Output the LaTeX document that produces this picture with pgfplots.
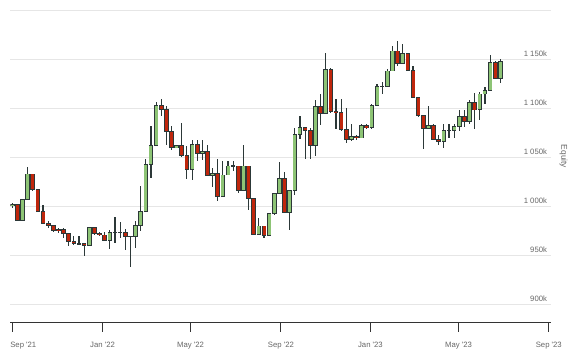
\documentclass[border=0pt]{standalone}
\usepackage{fontspec}
\setmainfont{Liberation Sans}
\usepackage{pgfplots}
\pgfplotsset{compat=1.18}
\usepackage{pgfplotstable}
\definecolor{upc}{RGB}{141,196,117}
\definecolor{dnc}{RGB}{191,38,12}
\definecolor{olc}{RGB}{44,56,56}
\definecolor{gridc}{RGB}{230,230,230}
\definecolor{labc}{RGB}{102,102,102}
\definecolor{axc}{RGB}{51,51,51}

\pgfplotstableread{
d o h l c
-1 1000.3 1003 998 1001.5
6 1001.5 1002 985.5 985.6
13 985.6 1007 985.3 1007
20 1007 1040.2 1006.8 1032.8
27 1032.8 1033 1015 1017.2
34 1017.2 1017.4 994.3 994.5
41 994.5 1000.8 982.2 982.4
48 982.4 984.5 978.2 980.3
55 980.3 981.2 973.4 975.4
62 976.2 978 972.8 975.2
69 976 978 967.8 972
76 972 972.3 959.4 964
83 964 970 960.2 962
90 961.8 970 960.5 961.2
97 961.8 962 949.5 960.2
104 960.2 978.3 960 978.3
111 978.3 978.5 971 972.4
118 972.4 974 969.5 970.6
125 970.6 973.5 964.6 964.8
132 964.8 976 956 973.3
139 973.3 988.5 962 973.6
146 973.6 984 968 973.5
153 973.5 977 955 969.3
160 969.3 969.5 937.4 969.2
167 969.2 984.5 957.2 980.5
174 980.5 1021 974.6 994.2
181 994.2 1047.7 994 1042.2
188 1042.2 1081.8 1028.8 1062
195 1062 1106.8 1061.8 1103
202 1103 1109 1092 1099
209 1099 1102.4 1062.3 1076.4
216 1076.4 1081.8 1057 1059.6
223 1059.6 1062.5 1059 1062
230 1062 1084.9 1050 1052
237 1052 1061.6 1027.7 1037.2
244 1037.2 1067.8 1026.7 1062.7
251 1062.7 1067.8 1046 1053.8
258 1053.8 1067.8 1047 1056.2
265 1056.2 1062 1031 1031.2
272 1031.2 1039 1019.2 1033.6
279 1033.6 1048.3 1004.8 1009.6
286 1009.6 1046.2 1009.3 1031.8
293 1031.8 1046.6 1031.5 1041
300 1041 1046.6 1036 1041.2
307 1041 1041.2 1013 1016.4
314 1016.4 1062 1016.2 1041
321 1041 1041.2 996 1008.2
328 1008.2 1008.4 971 971.2
335 971.2 988.4 971 979.8
342 979.8 980 967.8 970.2
349 970.2 993 970 992.5
356 992.5 1013.5 991 1013.3
363 1013.3 1044.9 1012 1028.6
370 1028.6 1035.4 993.7 993.9
377 993.9 1016.2 975.8 1016
384 1016 1079.6 1010.9 1073.5
391 1073.5 1092.2 1069 1080.3
398 1080.3 1080.5 1048.6 1077.2
405 1077.2 1080 1048.6 1061.6
412 1061.6 1108.5 1051 1102
419 1102 1114.6 1083.3 1094.9
426 1094.9 1156.8 1094.7 1139.8
433 1139.8 1141 1095 1096.9
440 1096.9 1109.5 1078.6 1096
447 1096 1109.5 1077 1077.9
454 1077.9 1100.3 1064.3 1068.4
461 1068.4 1084 1067 1071.1
468 1071.1 1072.8 1067.7 1069.7
475 1069.7 1084 1069.5 1082.2
482 1082.2 1084 1079 1080.2
489 1080.2 1104 1079 1103.1
496 1103.1 1124.5 1102 1122.1
503 1122.1 1126.7 1114.4 1122.5
510 1122.5 1139.8 1122 1138.1
517 1138.1 1163.6 1138 1158.5
524 1158.5 1168.7 1143.5 1145.9
531 1145.9 1165.3 1145.7 1156.1
538 1156.1 1156.3 1138 1138.8
545 1138.8 1143.5 1110 1110.9
552 1110.9 1111 1091 1092.2
559 1092.2 1092.4 1058.2 1079.6
566 1079.6 1102.4 1079 1082.7
573 1082.7 1083.7 1068 1068.4
580 1068.4 1072.8 1062.6 1066
587 1066 1083.7 1059.2 1077.2
594 1077.2 1083.7 1069.4 1077.5
601 1077.5 1083.7 1069.4 1081.3
608 1081.3 1098.3 1077 1091.5
615 1091.5 1098.3 1081 1086.4
622 1086.4 1108.5 1084 1106.1
629 1106.1 1115.3 1078.9 1098.3
636 1098.3 1116.3 1088.1 1114.6
643 1114.6 1122.1 1104.4 1118
650 1118 1154.4 1118 1146.6
657 1146.6 1148.3 1129.6 1130.6
664 1130.6 1150 1125.5 1147.6
}\candles

\begin{document}
\begin{tikzpicture}
\path[use as bounding box] (-7.8pt,-27.975pt) rectangle (427.2pt,242.025pt);
\begin{axis}[
  at={(0,0)}, anchor=south west,
  scale only axis, width=405.45pt, height=234.3pt,
  xmin=-3.5, xmax=733, ymin=881, ymax=1200,
  axis x line*=bottom, axis y line*=right,
  x axis line style={draw=axc, line width=0.75pt, -},
  y axis line style={draw=none},
  xtick={0,122,242,365,487,607,730},
  xticklabels={\makebox[0pt][l]{\hspace{-2pt}Sep \textquotesingle21},Jan \textquotesingle22,May \textquotesingle22,Sep \textquotesingle22,Jan \textquotesingle23,May \textquotesingle23,Sep \textquotesingle23},
  xtick align=outside, major tick length=6.75pt,
  xtick style={draw=axc, line width=0.75pt},
  ytick={900,950,1000,1050,1100,1150,1200},
  yticklabels={900k,950k,1 000k,1 050k,1 100k,1 150k,},
  ytick style={draw=none},
  ymajorgrids, major grid style={draw=gridc, line width=0.75pt},
  yticklabel style={anchor=base east, inner sep=0pt, xshift=-2.8pt, yshift=1.95pt, font=\fontsize{5.8pt}{7pt}\selectfont, text=labc},
  xticklabel style={anchor=base, inner sep=0pt, yshift=-11.5pt, font=\fontsize{5.8pt}{7pt}\selectfont, text=labc},
  clip mode=individual,
]
% wicks
\addplot[draw=none, mark=none, forget plot, error bars/.cd, y dir=both, y explicit, error mark=none,
  error bar style={draw=olc, line width=0.85pt}]
  table[x=d, y expr={(\thisrow{h}+\thisrow{l})/2}, y error expr={(\thisrow{h}-\thisrow{l})/2}] {\candles};
% body outlines
\addplot[draw=none, mark=none, forget plot, error bars/.cd, y dir=both, y explicit, error mark=none,
  error bar style={draw=olc, line width=3.45pt}]
  table[x=d, y expr={(\thisrow{o}+\thisrow{c})/2}, y error expr={abs(\thisrow{o}-\thisrow{c})/2+0.41}] {\candles};
% rising bodies
\addplot[draw=none, mark=none, forget plot, error bars/.cd, y dir=both, y explicit, error mark=none,
  error bar style={draw=upc, line width=2.25pt}]
  table[x=d, y expr={(\thisrow{o}+\thisrow{c})/2}, y error expr={max(0,(\thisrow{c}-\thisrow{o})/2-0.41)}] {\candles};
% falling bodies
\addplot[draw=none, mark=none, forget plot, error bars/.cd, y dir=both, y explicit, error mark=none,
  error bar style={draw=dnc, line width=2.25pt}]
  table[x=d, y expr={(\thisrow{o}+\thisrow{c})/2}, y error expr={max(0,(\thisrow{o}-\thisrow{c})/2-0.41)}] {\candles};
\node[rotate=-90, inner sep=0pt, font=\fontsize{6.3pt}{7.5pt}\selectfont, text=labc] at ([xshift=9.4pt]rel axis cs:1,0.532) {Equity};
\end{axis}
\end{tikzpicture}
\end{document}
